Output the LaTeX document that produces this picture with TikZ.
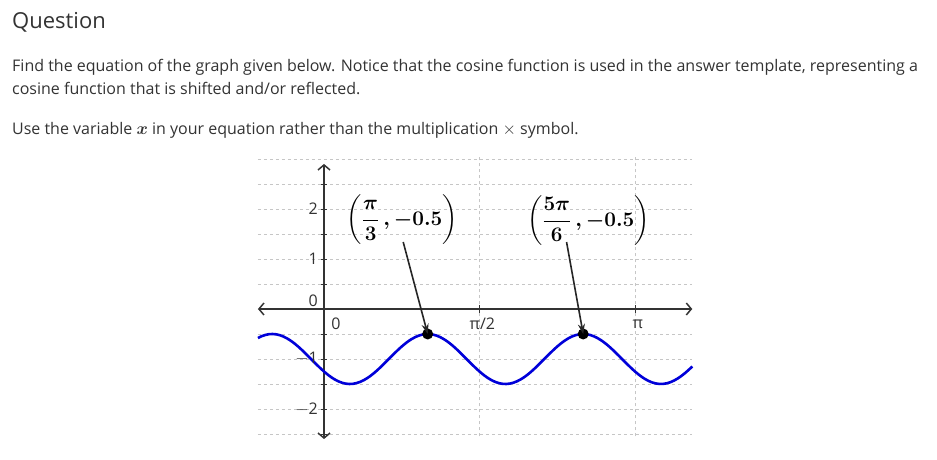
\documentclass[tikz,border=0pt]{standalone}
\usepackage{amsmath}
\usepackage{fontspec}
\setmainfont{Open Sans}
\usetikzlibrary{arrows.meta}
\definecolor{txt}{HTML}{333333}
\begin{document}
\begin{tikzpicture}[x=1pt,y=1pt,
  body/.style={anchor=base west,inner sep=0pt,text=txt,font=\fontsize{16}{19}\selectfont},
  tlab/.style={inner sep=0pt,text=txt,font=\fontsize{16}{18}\selectfont},
  grid/.style={gray!45,dashed,line width=0.6pt},
  axis/.style={line width=1.5pt,black!80,{Straight Barb[length=5pt,width=12pt]}-{Straight Barb[length=5pt,width=12pt]}},
  ptr/.style={line width=1.6pt,black!85,-{Stealth[length=10pt,width=7pt]}},
  mlab/.style={inner sep=0pt,font=\fontsize{19.5}{22}\selectfont\boldmath}]
\useasboundingbox (0,0) rectangle (937,460);
\fill[white] (0,0) rectangle (937,460);
\node[body,font=\fontsize{22}{26}\selectfont] (q) at (12,431) {Question};
\node[body] (l1) at (12,388) {Find the equation of the graph given below. Notice that the cosine function is used in the answer template, representing a};
\node[body] (l2) at (12,365) {cosine function that is shifted and/or reflected.};
\node[body] (l3) at (12,325) {Use the variable {\boldmath$x$} in your equation rather than the multiplication $\times$ symbol.};
\begin{scope}[xshift=324pt,yshift=151pt,x=99pt,y=50pt]
 \foreach \v in {-2.5,-2,...,3} \draw[grid] (-0.667,\v) -- (3.72,\v);
 \foreach \u in {1.5708,3.1416} \draw[grid] (\u,-2.55) -- (\u,3.05);
 \draw[axis] (-0.667,0) -- (3.72,0);
 \draw[axis] (0,-2.6) -- (0,2.9);
 \foreach \v in {-2.5,-2,...,2.5} \draw[line width=0.8pt,black!80] (-0.03,\v) -- (0.03,\v);
 \foreach \u in {1.5708,3.1416} \draw[line width=0.8pt,black!80] (\u,-0.08) -- (\u,0.08);
 \draw[blue!85!black,line width=2.6pt,smooth,samples=120,domain=-0.667:3.72] plot (\x,{-1+0.5*cos(4*(\x-1.0472) r)});
 \node[tlab,anchor=east] (y2) at (-0.06,2) {2};
 \node[tlab,anchor=east] (y1) at (-0.06,1) {1};
 \node[tlab,anchor=east] (y0) at (-0.06,0.17) {0};
 \node[tlab,anchor=east] (ym1) at (-0.06,-1) {$-$1};
 \node[tlab,anchor=east] (ym2) at (-0.06,-2) {$-$2};
 \node[tlab] (x0) at (0.12,-0.3) {0};
 \node[tlab] (xp2) at (1.6,-0.3) {π/2};
 \node[tlab] (xp) at (3.17,-0.3) {π};
 \fill (1.0472,-0.5) circle (5.5pt) coordinate (p1);
 \fill (2.618,-0.5) circle (5.5pt) coordinate (p2);
 \node[mlab] (a1) at (0.79,1.78) {$\left(\dfrac{\pi}{3}\,,-0.5\right)$};
 \node[mlab] (a2) at (2.67,1.76) {$\left(\dfrac{5\pi}{6}\,,-0.5\right)$};
 \coordinate (s1) at (0.8,1.34);
 \coordinate (s2) at (2.45,1.34);
\end{scope}
\draw[ptr] (s1) -- (p1);
\draw[ptr] (s2) -- (p2);
\end{tikzpicture}
\end{document}
